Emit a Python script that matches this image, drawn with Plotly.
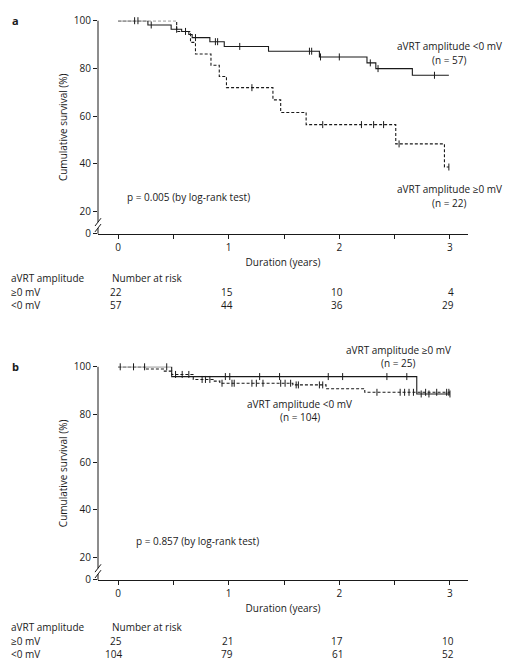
import plotly.graph_objects as go

W, H = 511, 672

# ---- panel a: survival steps (years, %), censor times ----
a_neg_t = [0, 0.27, 0.48, 0.575, 0.64, 0.67, 0.83, 0.96, 1.36, 1.82, 2.25, 2.33, 2.66, 2.99]
a_neg_s = [100, 98.2, 96.4, 95.5, 94.2, 92.9, 91.2, 89.2, 87.2, 84.8, 82.3, 79.9, 77.1, 77.1]
a_neg_cens = [0.15, 0.18, 0.30, 0.53, 0.61, 0.70, 0.88, 0.90, 1.10, 1.73, 1.75, 1.83, 2.00, 2.28, 2.35, 2.86]

a_pos_t = [0, 0.53, 0.655, 0.70, 0.84, 0.915, 0.98, 1.40, 1.47, 1.70, 2.51, 2.95, 2.99]
a_pos_s = [100, 95.5, 90.9, 86.0, 81.3, 76.6, 71.9, 66.8, 61.5, 56.4, 48.3, 38.6, 38.6]
a_pos_cens = [1.21, 1.85, 2.20, 2.31, 2.40, 2.54, 2.99]

a_risk_pos = [22, 15, 10, 4]
a_risk_neg = [57, 44, 36, 29]

# ---- panel b ----
b_pos_t = [0, 0.485, 2.70, 3.0]
b_pos_s = [100, 95.9, 88.6, 88.6]
b_pos_cens = [0.02, 0.14, 0.24, 0.44, 0.97, 1.01, 1.28, 1.46, 1.90, 2.03, 2.43, 2.61, 2.74, 2.81, 3.0]

b_neg_t = [0, 0.24, 0.41, 0.485, 0.68, 0.86, 0.92, 1.58, 1.88, 2.23, 3.0]
b_neg_s = [100, 99.1, 98.2, 96.8, 94.7, 94.0, 93.1, 92.4, 90.8, 89.3, 89.3]
b_neg_cens = [0.52, 0.58, 0.64, 0.76, 0.79, 0.83, 0.94, 1.03, 1.05, 1.21, 1.25, 1.31, 1.47,
              1.51, 1.56, 1.61, 1.63, 1.82, 1.85, 2.34, 2.55, 2.59, 2.63, 2.67, 2.78, 2.88, 2.97, 2.99]

b_risk_pos = [25, 21, 17, 10]
b_risk_neg = [104, 79, 61, 52]

risk_years = [0, 1, 2, 3]
x_ticks = [0, 0.5, 1, 1.5, 2, 2.5, 3]
x_ticktext = ["0", "", "1", "", "2", "", "3"]
y_ticktext = ["0", "20", "40", "60", "80", "100"]

INK = "#1a1a1a"
FONT = "Open Sans"
FS = 10
Y0 = 10.56          # where the broken axis puts "0"
X_RANGE = [-0.181, 3.163]


def px(x):
    return x / W


def py(y):
    return 1 - y / H


def step_at(times, surv, t):
    s = surv[0]
    for ti, si in zip(times, surv):
        if ti <= t:
            s = si
    return s


def add_curve(fig, times, surv, cens, dashed, xa, ya):
    dash = "3px,2px" if dashed else "solid"
    fig.add_trace(go.Scatter(
        x=times, y=surv, mode="lines", line=dict(color=INK, width=1.1, shape="hv", dash=dash),
        xaxis=xa, yaxis=ya, cliponaxis=False, showlegend=False, hoverinfo="skip"))
    fig.add_trace(go.Scatter(
        x=cens, y=[step_at(times, surv, t) for t in cens], mode="markers",
        marker=dict(symbol="line-ns", size=5, line=dict(color=INK, width=1)),
        xaxis=xa, yaxis=ya, cliponaxis=False, showlegend=False, hoverinfo="skip"))


fig = go.Figure()
add_curve(fig, a_neg_t, a_neg_s, a_neg_cens, False, "x", "y")
add_curve(fig, a_pos_t, a_pos_s, a_pos_cens, True, "x", "y")
add_curve(fig, b_pos_t, b_pos_s, b_pos_cens, False, "x2", "y2")
add_curve(fig, b_neg_t, b_neg_s, b_neg_cens, True, "x2", "y2")

shapes, annotations = [], []


def txt(text, x, y, anchor="left", **kw):
    annotations.append(dict(text=text, x=px(x), y=py(y), xref="paper", yref="paper",
                            xanchor=anchor, yanchor="middle", showarrow=False, borderpad=0,
                            font=dict(family=FONT, size=FS, color=INK), **kw))


def panel(off, xa, ya, label, p_text, p_xy, labels, risk_pos, risk_neg, tab_y):
    # y axis line broken between 0 and 20
    ax = 98
    for y_top, y_bot in [(13, 219), (225, 231)]:
        shapes.append(dict(type="line", xref="paper", yref="paper", x0=px(ax), x1=px(ax),
                           y0=py(y_top + off), y1=py(y_bot + off), line=dict(color=INK, width=1)))
    for yb in (223, 229):
        shapes.append(dict(type="line", xref="paper", yref="paper", x0=px(95), x1=px(101),
                           y0=py(yb + off), y1=py(yb - 8 + off), line=dict(color=INK, width=1)))

    annotations.append(dict(text="<b>%s</b>" % label, x=px(10), y=py(13 + off), xref="paper",
                            yref="paper", xanchor="left", yanchor="middle", showarrow=False,
                            font=dict(family=FONT, size=11, color=INK)))
    txt(p_text, p_xy[0], p_xy[1] + off)
    for text, x, y in labels:
        txt(text, x, y + off, anchor="center")

    # number at risk table
    txt("aVRT amplitude", 10, tab_y[0])
    txt("Number at risk", 111, tab_y[0])
    txt("≥0 mV", 10, tab_y[1])
    txt("<0 mV", 10, tab_y[2])
    for row, yy in [(risk_pos, tab_y[1]), (risk_neg, tab_y[2])]:
        for t, n in zip(risk_years, row):
            annotations.append(dict(text=str(n), x=t, y=py(yy), xref=xa, yref="paper",
                                    xanchor="right", yanchor="middle", xshift=5, showarrow=False,
                                    borderpad=0, font=dict(family=FONT, size=FS, color=INK)))


panel(0, "x", "y", "a", "p = 0.005 (by log-rank test)", (126, 193),
      [("aVRT amplitude <0 mV", 449, 39), ("(n = 57)", 449, 53),
       ("aVRT amplitude ≥0 mV", 449, 185), ("(n = 22)", 449, 199)],
      a_risk_pos, a_risk_neg, (276, 290, 304))
panel(354, "x2", "y2", "b", "p = 0.857 (by log-rank test)", (135, 191),
      [("aVRT amplitude ≥0 mV", 398, -4), ("(n = 25)", 398, 9),
       ("aVRT amplitude <0 mV", 299, 51), ("(n = 104)", 300, 64)],
      b_risk_pos, b_risk_neg, (633, 647, 661))


def xaxis(off, anchor):
    return dict(domain=[px(98), px(468)], anchor=anchor, range=X_RANGE,
                tickvals=x_ticks, ticktext=x_ticktext, ticks="outside", ticklen=4,
                tickcolor=INK, showline=True, linecolor=INK, linewidth=1,
                showgrid=False, zeroline=False,
                tickfont=dict(family=FONT, size=FS, color=INK),
                title=dict(text="Duration (years)", standoff=6,
                           font=dict(family=FONT, size=FS, color=INK)))


def yaxis(off, anchor):
    return dict(domain=[py(231 + off), py(13 + off)], anchor=anchor, range=[Y0, 100],
                tickvals=[Y0, 20, 40, 60, 80, 100], ticktext=y_ticktext, ticks="outside",
                ticklen=4, tickcolor=INK, showline=False, showgrid=False, zeroline=False,
                tickfont=dict(family=FONT, size=FS, color=INK),
                title=dict(text="Cumulative survival (%)", standoff=4,
                           font=dict(family=FONT, size=FS, color=INK)))


fig.update_layout(
    width=W, height=H, margin=dict(l=0, r=0, t=0, b=0),
    paper_bgcolor="white", plot_bgcolor="white",
    xaxis=xaxis(0, "y"), yaxis=yaxis(0, "x"),
    xaxis2=xaxis(354, "y2"), yaxis2=yaxis(354, "x2"),
    shapes=shapes, annotations=annotations,
)

# the page's default body margin would push the 511x672 figure off the window
fig.write_html("out.html", config={"displayModeBar": False},
               post_script="document.body.style.margin='0';document.body.style.overflow='hidden';")
